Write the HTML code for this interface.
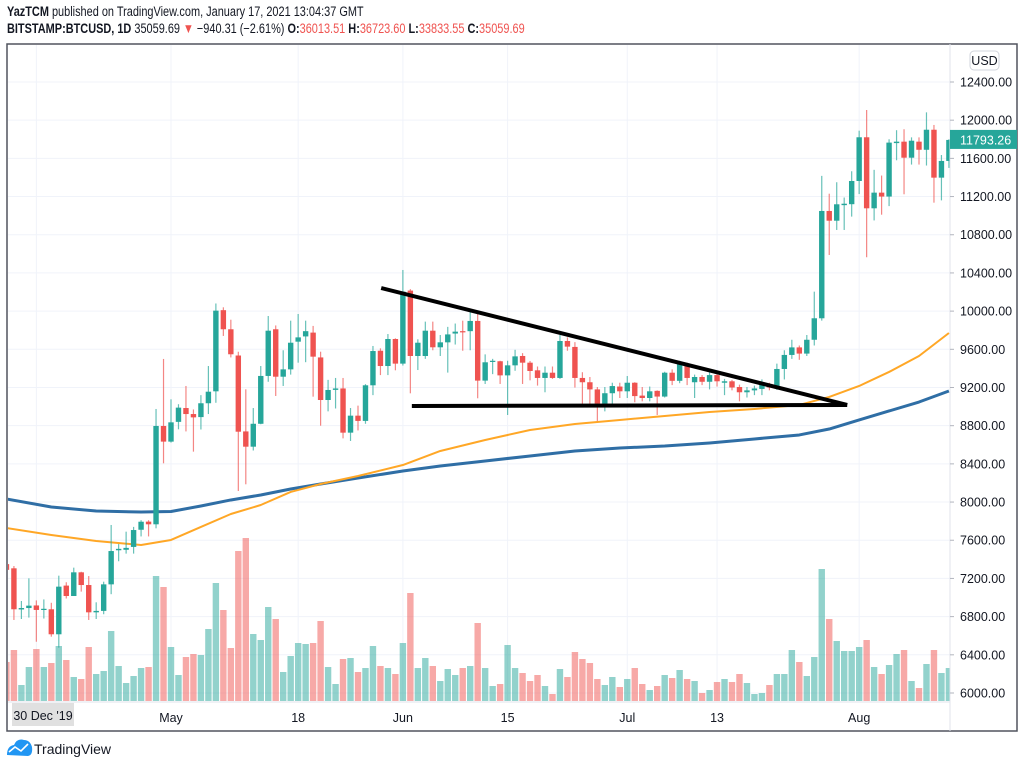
<!DOCTYPE html>
<html><head><meta charset="utf-8"><style>
body{margin:0;background:#fff;width:1024px;height:768px;overflow:hidden;font-family:"Liberation Sans",sans-serif;}
#hdr1{position:absolute;left:7px;top:4px;font-size:13.5px;color:#131722;transform:scaleX(0.81);transform-origin:0 0;white-space:nowrap;}
#hdr2{position:absolute;left:7px;top:21px;font-size:13.5px;color:#131722;transform:scaleX(0.81);transform-origin:0 0;white-space:nowrap;}
.r{color:#ef5350}
svg{position:absolute;left:0;top:0}
</style></head><body>
<div id="hdr1"><b>YazTCM</b> published on TradingView.com, January 17, 2021 13:04:37 GMT</div>
<div id="hdr2"><b>BITSTAMP:BTCUSD, 1D</b> 35059.69 <span class="r">▼</span> −940.31 (−2.61%) <b>O:</b><span class="r">36013.51</span> <b>H:</b><span class="r">36723.60</span> <b>L:</b><span class="r">33833.55</span> <b>C:</b><span class="r">35059.69</span></div>
<svg id="chart" width="1024" height="768"></svg>
<script>
const startDay = -22;
const opens = [7350,7306,6875,6890,6917,6870,6877,6615,7125,7016,7264,7131,6845,6860,7138,7495,7500,7530,7710,7795,7767,8797,8633,8840,8985,8922,8890,9035,9160,10010,9810,9535,8740,8580,8820,9321,9810,9313,9390,9680,9735,9775,9515,9069,9175,9190,8727,8905,8850,9223,9585,9425,9708,9450,10215,9530,9530,9795,9621,9673,9765,9790,9790,9897,9272,9470,9475,9327,9432,9530,9460,9380,9300,9355,9300,9687,9625,9300,9255,9180,9030,9140,9210,9160,9250,9115,9090,9165,9105,9355,9270,9440,9255,9310,9260,9330,9250,9265,9205,9150,9170,9185,9230,9200,9394,9541,9620,9555,9700,9925,11049,10947,11110,11120,11363,11821,11077,11241,11200,11760,11775,11607,11775,11690,11900,11398,11573];
const highs = [7400,7330,6964,7201,6970,6980,6945,7229,7160,7313,7270,7225,6950,7166,7760,7560,7690,7740,7810,7810,8975,9499,9076,9025,9216,8970,9120,9425,10080,10040,9910,9575,9181,8985,9425,9949,9850,9590,9900,9970,9900,9845,9575,9280,9300,9300,8985,9010,9235,9635,9610,9760,9715,10431,10230,9705,9890,9890,9750,9835,9870,9900,9995,9970,9547,9500,9480,9480,9595,9560,9478,9420,9420,9420,9750,9725,9675,9360,9310,9205,9205,9250,9250,9320,9255,9205,9210,9170,9365,9390,9480,9460,9335,9330,9370,9350,9290,9280,9230,9205,9220,9285,9250,9450,9590,9700,9640,9750,10204,11416,11230,11350,11190,11465,11890,12107,11480,11420,11800,11895,11905,11820,11820,12082,11950,11635,11800];
const lows = [7250,6765,6775,6790,6537,6780,6590,6475,6990,7016,7062,6765,6775,6825,7035,7380,7460,7460,7640,7640,7725,8406,8623,8762,8740,8528,8760,8922,9040,9740,9515,8116,8186,8540,8815,9260,9111,9216,9335,9460,9465,9104,8800,8950,8980,8667,8640,8750,8820,9120,9330,9330,9380,9430,9139,9383,9500,9590,9530,9356,9650,9585,9590,9087,9237,9340,9237,8912,9375,9237,9275,9220,9150,9290,9290,9585,9199,9017,9017,8849,8950,9017,9090,9090,9045,9055,9055,8912,9095,9225,9245,9225,9090,9225,9180,9210,9120,9170,9055,9095,9120,9120,9170,9175,9284,9500,9490,9530,9640,9900,10588,10850,10850,10990,11226,10564,10950,11010,11100,11580,11224,11535,11535,11525,11136,11160,11500];
const closes = [7290,6877,6890,6915,6870,6882,6615,7114,7016,7264,7131,6845,6860,7138,7487,7510,7520,7707,7794,7767,8797,8633,8835,8989,8922,8887,9035,9156,10005,9810,9548,8737,8580,8820,9321,9795,9313,9390,9669,9725,9790,9523,9069,9174,9190,8727,8905,8850,9223,9582,9425,9708,9450,10204,9530,9669,9795,9621,9673,9756,9785,9780,9897,9272,9464,9480,9327,9432,9526,9460,9373,9300,9355,9300,9687,9628,9300,9255,9180,9030,9140,9215,9160,9250,9110,9090,9160,9105,9355,9270,9445,9300,9310,9260,9330,9265,9265,9200,9150,9170,9190,9230,9200,9394,9541,9620,9555,9700,9925,11049,10947,11119,11125,11363,11821,11077,11241,11200,11765,11775,11607,11785,11690,11900,11398,11573,11793];
const volumes = [39,51,16,34,52,34,38,55,41,24,22,54,27,30,70,35,18,25,33,34,125,114,54,26,44,47,46,72,118,91,53,150,163,67,61,94,82,29,45,58,57,58,80,34,17,42,43,29,33,55,35,33,27,58,108,33,43,35,20,32,26,33,35,78,33,15,17,56,33,28,20,26,15,7,32,24,49,42,38,22,16,24,14,22,33,17,11,15,26,23,31,22,20,8,11,19,22,19,27,18,7,8,16,27,27,51,39,25,44,132,82,60,50,50,54,61,34,27,36,47,51,20,13,37,51,28,33];
const maDays = [-22,-16,-10,-4,0,4,8,12,16,20,25,31,36,42,48,54,60,66,72,78,84,88,92,96,100,104];
const ma200 = [8032,7948,7906,7896,7901,7959,8022,8074,8137,8189,8252,8325,8378,8430,8483,8535,8566,8587,8619,8661,8703,8765,8860,8954,9048,9163];
const ma50 = [7728,7655,7592,7550,7603,7739,7875,7969,8106,8189,8273,8388,8535,8650,8755,8818,8860,8902,8943,8975,9017,9101,9216,9363,9530,9771];
const priceTicks = [6000,6400,6800,7200,7600,8000,8400,8800,9200,9600,10000,10400,10800,11200,11600,12000,12400];
const timeTickDays = [-18,0,17,31,45,61,73,92];
const timeTickLabels = ["","May","18","Jun","15","Jul","13","Aug"];
const trendUpper = [[28.1,10242],[90.4,9017]];
const trendLower = [[32.2,9006],[90.4,9017]];
const lastPrice = 11793.26;

const NS="http://www.w3.org/2000/svg";
const svg=document.getElementById('chart');
const X=d=>171+7.48*d;
const Y=p=>693-(p-6000)*0.09547;
const VB=701, VMAX=163, VH=163;
function mk(tag,attrs,parent){const e=document.createElementNS(NS,tag);for(const k in attrs)e.setAttribute(k,attrs[k]);(parent||svg).appendChild(e);return e;}

const defs=mk('defs',{});
const cp=mk('clipPath',{id:'plot'},defs);
mk('rect',{x:8,y:45,width:942,height:656},cp);

const grid=mk('g',{});


priceTicks.forEach(p=>{const l=mk('line',{x1:8,x2:950,y1:Y(p),y2:Y(p),stroke:'#f0f3fa','stroke-width':1},grid);});
timeTickDays.forEach(d=>{const l=mk('line',{x1:X(d),x2:X(d),y1:45,y2:701,stroke:'#f0f3fa','stroke-width':1},grid);});

const plot=mk('g',{'clip-path':'url(#plot)'});



volumes.forEach((v,i)=>{const d=startDay+i;const up=closes[i]>=opens[i];const h=v/VMAX*VH;
const r=mk('rect',{x:X(d)-3.2,y:VB-h,width:6.4,height:h,fill:up?'rgba(38,166,154,0.5)':'rgba(239,83,80,0.5)'},plot);

});

function maLine(vals,color,w,name){const pts=maDays.map((d,i)=>X(d)+','+Y(vals[i])).join(' ');
const l=mk('polyline',{points:pts,fill:'none',stroke:color,'stroke-width':w,'stroke-linejoin':'round'},plot);

}
maLine(ma200,'#2f6ea5',3,'ma-200-line');
maLine(ma50,'#ffa726',2,'ma-50-line');

opens.forEach((o,i)=>{const d=startDay+i;const c=closes[i];const up=c>=o;const col=up?'#26a69a':'#ef5350';const wc=up?'rgba(38,166,154,0.7)':'rgba(239,83,80,0.7)';
const g=mk('g',{},plot);


mk('line',{x1:X(d),x2:X(d),y1:Y(highs[i]),y2:Y(lows[i]),stroke:wc,'stroke-width':1.2},g);
const t=Y(Math.max(o,c)),b=Y(Math.min(o,c));
mk('rect',{x:X(d)-2.7,y:t,width:5.4,height:Math.max(1.2,b-t),fill:col},g);});

[trendUpper,trendLower].forEach((tl,k)=>{const l=mk('line',{x1:X(tl[0][0]),y1:Y(tl[0][1]),x2:X(tl[1][0]),y2:Y(tl[1][1]),stroke:'#000','stroke-width':4},plot);

});

mk('rect',{x:7,y:44,width:1010,height:687,fill:'none',stroke:'#50535e','stroke-width':1.5});
mk('line',{x1:950,x2:950,y1:44,y2:731,stroke:'#e0e3eb','stroke-width':1});
mk('line',{x1:8,x2:950,y1:702,y2:702,stroke:'#e0e3eb','stroke-width':1});

const pa=mk('g',{});


priceTicks.forEach(p=>{mk('line',{x1:950,x2:954,y1:Y(p),y2:Y(p),stroke:'#b2b5be'},pa);
const t=mk('text',{x:960,y:Y(p)+4.5,'font-size':12.5,fill:'#131722','font-family':'Liberation Sans, sans-serif'},pa);t.textContent=p.toFixed(2);

});
const ub=mk('rect',{x:970,y:51,width:29,height:19,rx:4,fill:'#fff',stroke:'#d1d4dc'});


const ut=mk('text',{x:984.5,y:65,'font-size':12.5,'text-anchor':'middle',fill:'#131722'});ut.textContent='USD';
const lp=mk('rect',{x:950,y:Y(lastPrice)-10,width:67,height:19,fill:'#26a69a'});


const lpt=mk('text',{x:960,y:Y(lastPrice)+4.5,'font-size':12.5,fill:'#fff'});lpt.textContent=lastPrice.toFixed(2);

const ta=mk('g',{});


timeTickDays.forEach((d,i)=>{if(!timeTickLabels[i])return;const t=mk('text',{x:X(d),y:722,'font-size':12.5,'text-anchor':'middle',fill:'#131722'},ta);t.textContent=timeTickLabels[i];

});
const db=mk('rect',{x:12,y:703,width:62,height:23,fill:'#e0e0e0'});


const dt=mk('text',{x:43,y:720,'font-size':12.5,'text-anchor':'middle',fill:'#131722'});dt.textContent="30 Dec '19";

const lg=mk('g',{});


mk('path',{d:'M7 755 Q7 746 14 745 Q17 738 24 740 Q30 740 32 747 Q33 755 28 756 Z',fill:'#2196f3'},lg);
mk('polyline',{points:'9,752 15,747 21,751 28,744',fill:'none',stroke:'#fff','stroke-width':1.6},lg);
const lt=mk('text',{x:34,y:754,'font-size':14,fill:'#131722'},lg);lt.textContent='TradingView';
</script>
</body></html>
